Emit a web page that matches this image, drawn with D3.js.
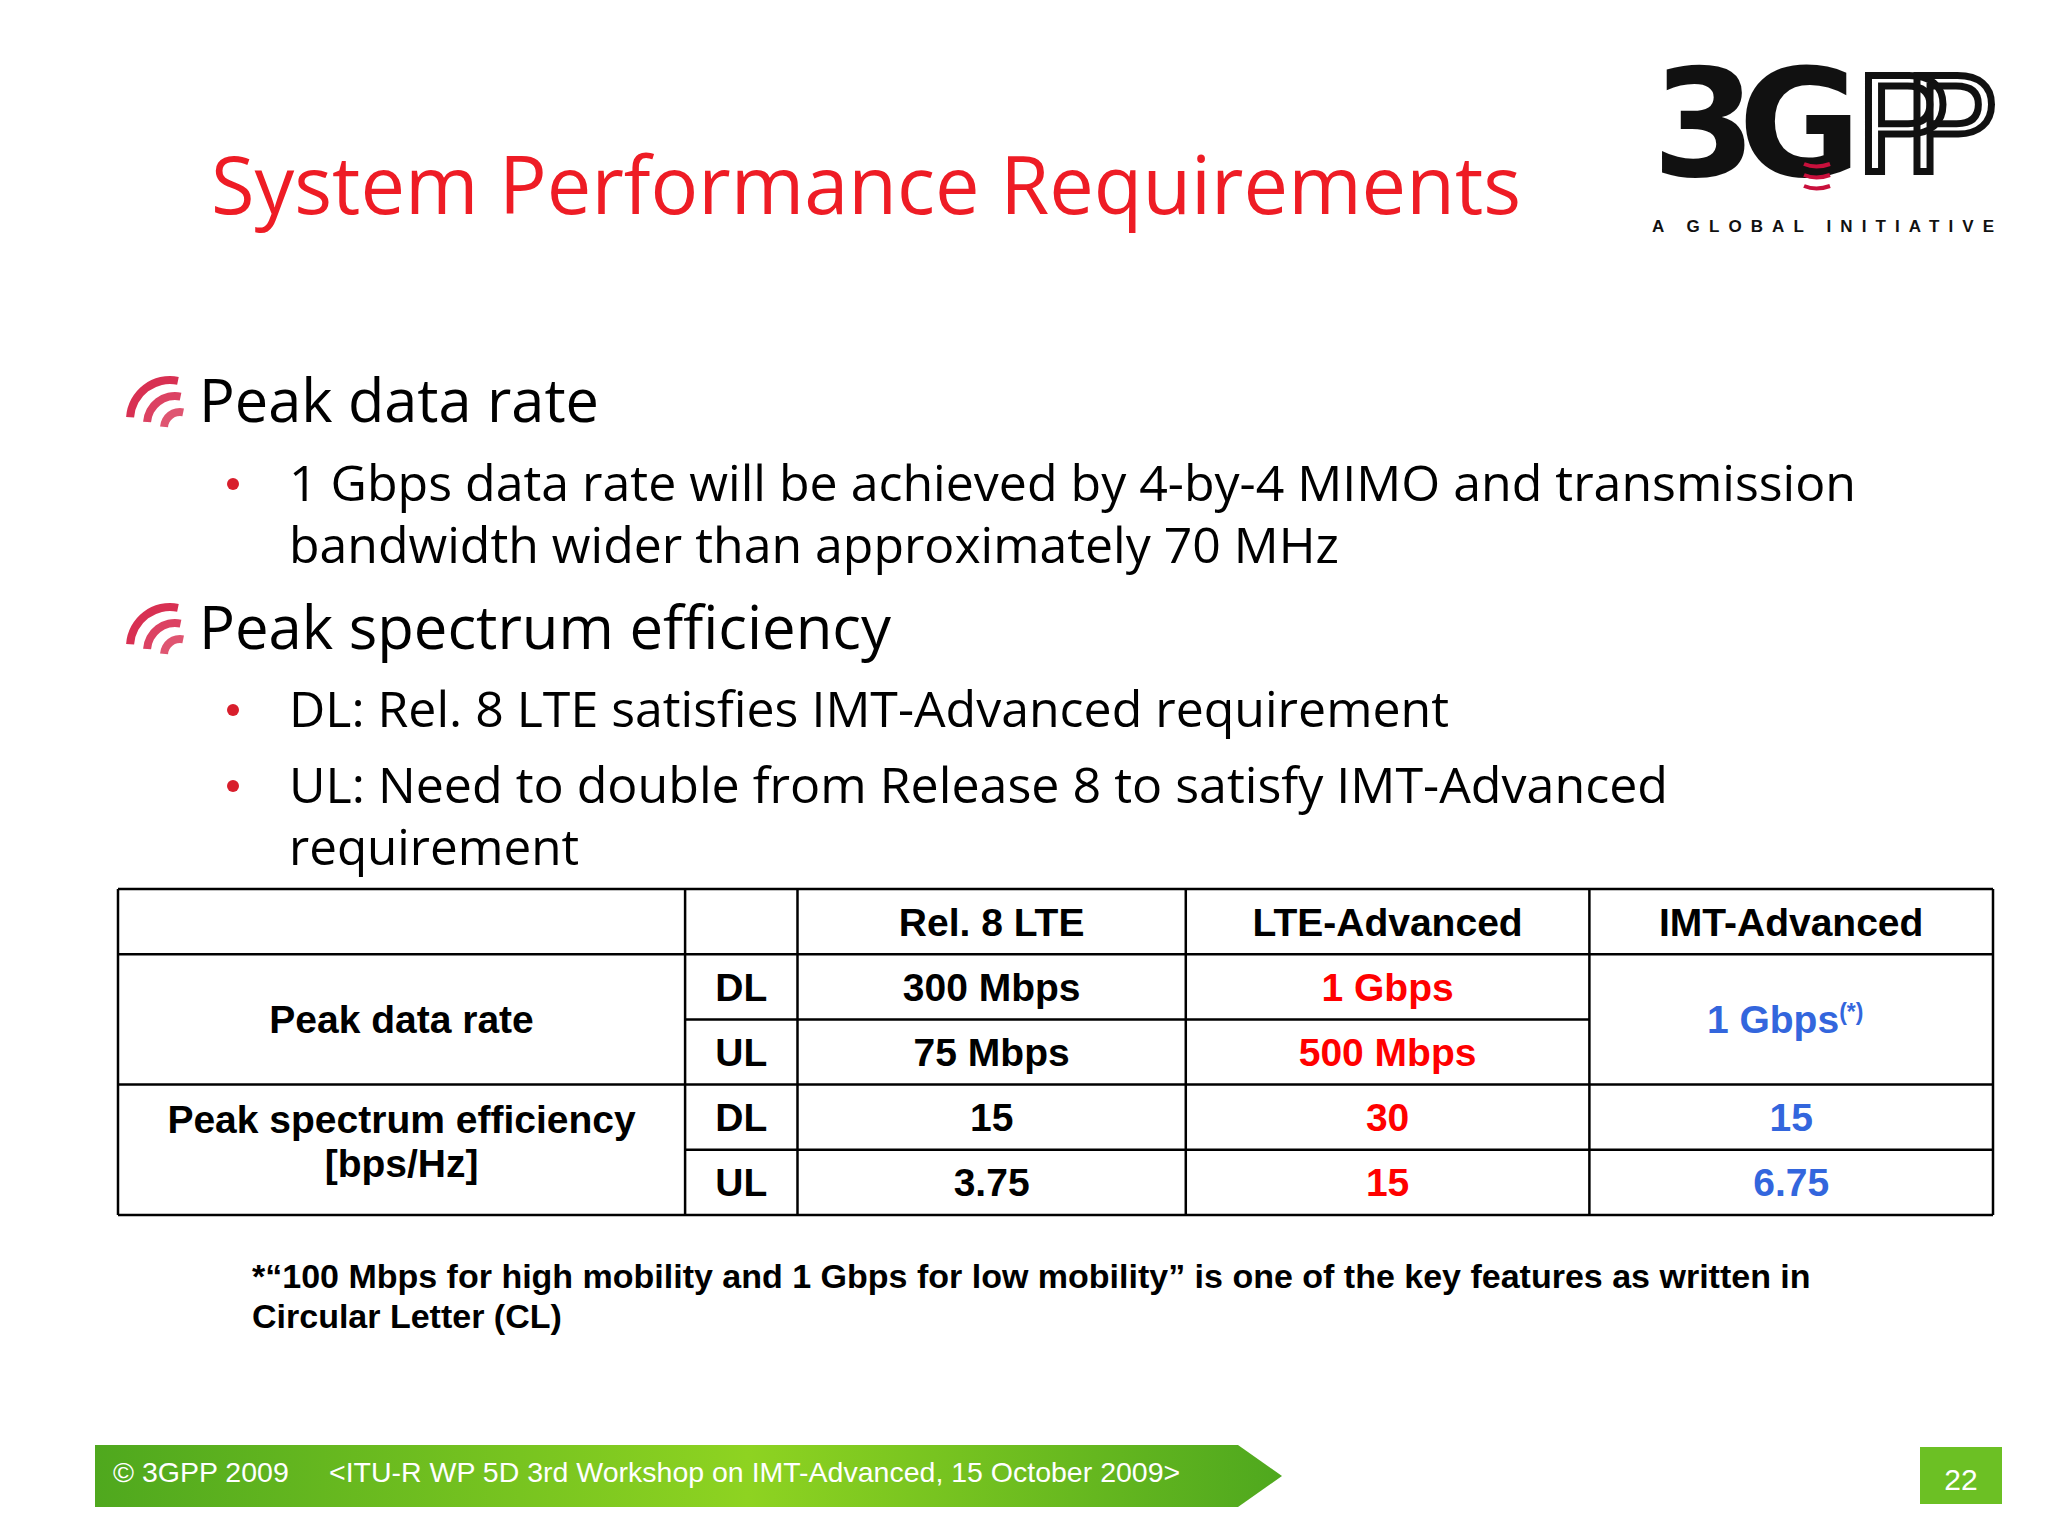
<!DOCTYPE html>
<html><head><meta charset="utf-8">
<script src="https://cdn.jsdelivr.net/npm/d3@7"></script>
<style>body{margin:0;background:#fff}svg{display:block}</style>
</head><body>
<script>
// slide content
const title = "System Performance Requirements";
const heads = ["Peak data rate", "Peak spectrum efficiency"];
const headY = [422, 649];
const subLines = [
  "1 Gbps data rate will be achieved by 4-by-4 MIMO and transmission",
  "bandwidth wider than approximately 70 MHz",
  "DL: Rel. 8 LTE satisfies IMT-Advanced requirement",
  "UL: Need to double from Release 8 to satisfy IMT-Advanced",
  "requirement"
];
const subY = [501, 563, 727, 803, 865];
const subDot = [true, false, true, true, false];
const subLen = [1567, 1050, 1160, 1379, 290];
const headLen = [400, 692];

const headers = ["", "", "Rel. 8 LTE", "LTE-Advanced", "IMT-Advanced"];
const colWidths = [333, 66, 228, 237, 237];
const links = ["DL", "UL", "DL", "UL"];
const rel8 = ["300 Mbps", "75 Mbps", "15", "3.75"];
const lteA = ["1 Gbps", "500 Mbps", "30", "15"];
const imtA = ["1 Gbps", null, "15", "6.75"];
const groups = [{name: ["Peak data rate"], row: 1}, {name: ["Peak spectrum efficiency", "[bps/Hz]"], row: 3}];
const footnote = ["*\u201c100 Mbps for high mobility and 1 Gbps for low mobility\u201d is one of the key features as written in", "Circular Letter (CL)"];
const footer = ["\u00a9 3GPP 2009", "<ITU-R WP 5D 3rd Workshop on IMT-Advanced, 15 October 2009>"];
const pageNo = "22";

const W = 2048, H = 1531;
const svg = d3.select("body").append("svg").attr("width", W).attr("height", H);
const sans = "'Open Sans', 'Noto Sans', sans-serif";
const arial = "Arial, 'Liberation Sans', sans-serif";

const defs = svg.append("defs");
const g1 = defs.append("linearGradient").attr("id", "gb").attr("x1", 0).attr("x2", 1);
g1.append("stop").attr("offset", 0).attr("stop-color", "#4fa81e");
g1.append("stop").attr("offset", 0.55).attr("stop-color", "#8ed321");
g1.append("stop").attr("offset", 1).attr("stop-color", "#4fa81e");

// title
svg.append("text").attr("x", 211).attr("y", 214).attr("font-family", sans).attr("font-size", 80)
  .attr("fill", "#ee1c25").attr("textLength", 1310).attr("lengthAdjust", "spacingAndGlyphs").text(title);

// 3GPP logo (rough)
const logo = svg.append("g").attr("transform", "translate(1652,36)");
logo.append("text").attr("x", 0).attr("y", 140).attr("font-family", "'DejaVu Sans', sans-serif").attr("font-weight", "bold")
  .attr("font-size", 150).attr("letter-spacing", -18).attr("fill", "#111").text("3G");
logo.append("text").attr("x", 205).attr("y", 135).attr("font-family", arial)
  .attr("font-size", 140).attr("letter-spacing", -45).attr("fill", "none").attr("stroke", "#111").attr("stroke-width", 7).text("PP");
[0, 1, 2].forEach(i => logo.append("path").attr("d", `M${152},${128 + i * 11} q12,5 26,0`).attr("stroke", "#c8103c").attr("stroke-width", 4).attr("fill", "none"));
logo.append("text").attr("x", 0).attr("y", 196).attr("font-family", arial).attr("font-weight", "bold")
  .attr("font-size", 17).attr("textLength", 342).attr("fill", "#111").text("A GLOBAL INITIATIVE");

// level-0 bullets with red wave icon
heads.forEach((t, i) => {
  const ic = svg.append("g").attr("transform", `translate(170,${headY[i] - 2})`);
  [44, 32, 20].forEach((r, k) =>
    ic.append("path").attr("d", d3.arc()({innerRadius: r - 8, outerRadius: r, startAngle: -1.5, endAngle: 0.2}))
      .attr("transform", `translate(${k * 5},${k * 4})`).attr("fill", "#d4193f").attr("opacity", 0.9 - k * 0.08));
  svg.append("text").attr("x", 199).attr("y", headY[i]).attr("font-family", sans).attr("font-size", 60)
    .attr("textLength", headLen[i]).attr("lengthAdjust", "spacingAndGlyphs").text(t);
});

// level-1 bullets
subLines.forEach((t, i) => {
  if (subDot[i]) svg.append("circle").attr("cx", 233).attr("cy", subY[i] - 17).attr("r", 6).attr("fill", "#d81e2c");
  svg.append("text").attr("x", 289).attr("y", subY[i]).attr("font-family", sans).attr("font-size", 49)
    .attr("textLength", subLen[i]).attr("lengthAdjust", "spacingAndGlyphs").text(t);
});

// table
const edges = d3.cumsum([0, ...colWidths]);
const x = d3.scaleLinear().domain([0, edges[edges.length - 1]]).range([118, 1993]);
const y = d3.scaleLinear().domain([0, 5]).range([889, 1215]);
const tb = svg.append("g").attr("font-family", arial).attr("font-weight", "bold").attr("font-size", 39);
const line = (x1, y1, x2, y2) => tb.append("line").attr("x1", x1).attr("y1", y1).attr("x2", x2).attr("y2", y2).attr("stroke", "#000").attr("stroke-width", 2.5);
const cell = (c, r, t, fill, span = 1) => tb.append("text").attr("x", (x(edges[c]) + x(edges[c + 1])) / 2)
  .attr("y", (y(r) + y(r + span)) / 2 + 14).attr("text-anchor", "middle").attr("fill", fill).text(t);
line(x(0), y(0), x(edges[5]), y(0));
line(x(0), y(5), x(edges[5]), y(5));
edges.forEach(e => line(x(e), y(0), x(e), y(5)));
[1, 3].forEach(r => line(x(0), y(r), x(edges[5]), y(r)));
[2, 4].forEach(r => line(x(edges[1]), y(r), x(edges[4]), y(r)));
line(x(edges[4]), y(4), x(edges[5]), y(4));
headers.forEach((h, c) => cell(c, 0, h, "#000"));
links.forEach((l, i) => cell(1, i + 1, l, "#000"));
rel8.forEach((v, i) => cell(2, i + 1, v, "#000"));
lteA.forEach((v, i) => cell(3, i + 1, v, "#ff0000"));
imtA.forEach((v, i) => {
  if (v === null) return;
  const span = i === 0 ? 2 : 1;
  const t = cell(4, i + 1, v, "#3366dd", span);
  if (i === 0) { t.attr("dx", -6); t.append("tspan").attr("font-size", 23).attr("dy", -13).text("(*)"); }
});
groups.forEach(g => {
  const n = g.name.length;
  g.name.forEach((t, k) => tb.append("text").attr("x", (x(edges[0]) + x(edges[1])) / 2)
    .attr("y", (y(g.row) + y(g.row + 2)) / 2 + 14 + (k - (n - 1) / 2) * 44 - (n - 1) * 9).attr("text-anchor", "middle").text(t));
});

// footnote
footnote.forEach((t, k) => svg.append("text").attr("x", 252).attr("y", 1288 + k * 40).attr("font-family", arial)
  .attr("font-weight", "bold").attr("font-size", 34).text(t));

// footer
svg.append("path").attr("d", "M95,1445 L1238,1445 L1282,1476 L1238,1507 L95,1507 Z").attr("fill", "url(#gb)");
svg.append("text").attr("x", 113).attr("y", 1482).attr("font-family", arial).attr("font-size", 28.5).attr("fill", "#fff").text(footer[0]);
svg.append("text").attr("x", 329).attr("y", 1482).attr("font-family", arial).attr("font-size", 28.5).attr("fill", "#fff").text(footer[1]);
svg.append("rect").attr("x", 1920).attr("y", 1447).attr("width", 82).attr("height", 57).attr("fill", "#6cc024");
svg.append("text").attr("x", 1961).attr("y", 1490).attr("text-anchor", "middle").attr("font-family", arial).attr("font-size", 30).attr("fill", "#fff").text(pageNo);
</script>
</body></html>
